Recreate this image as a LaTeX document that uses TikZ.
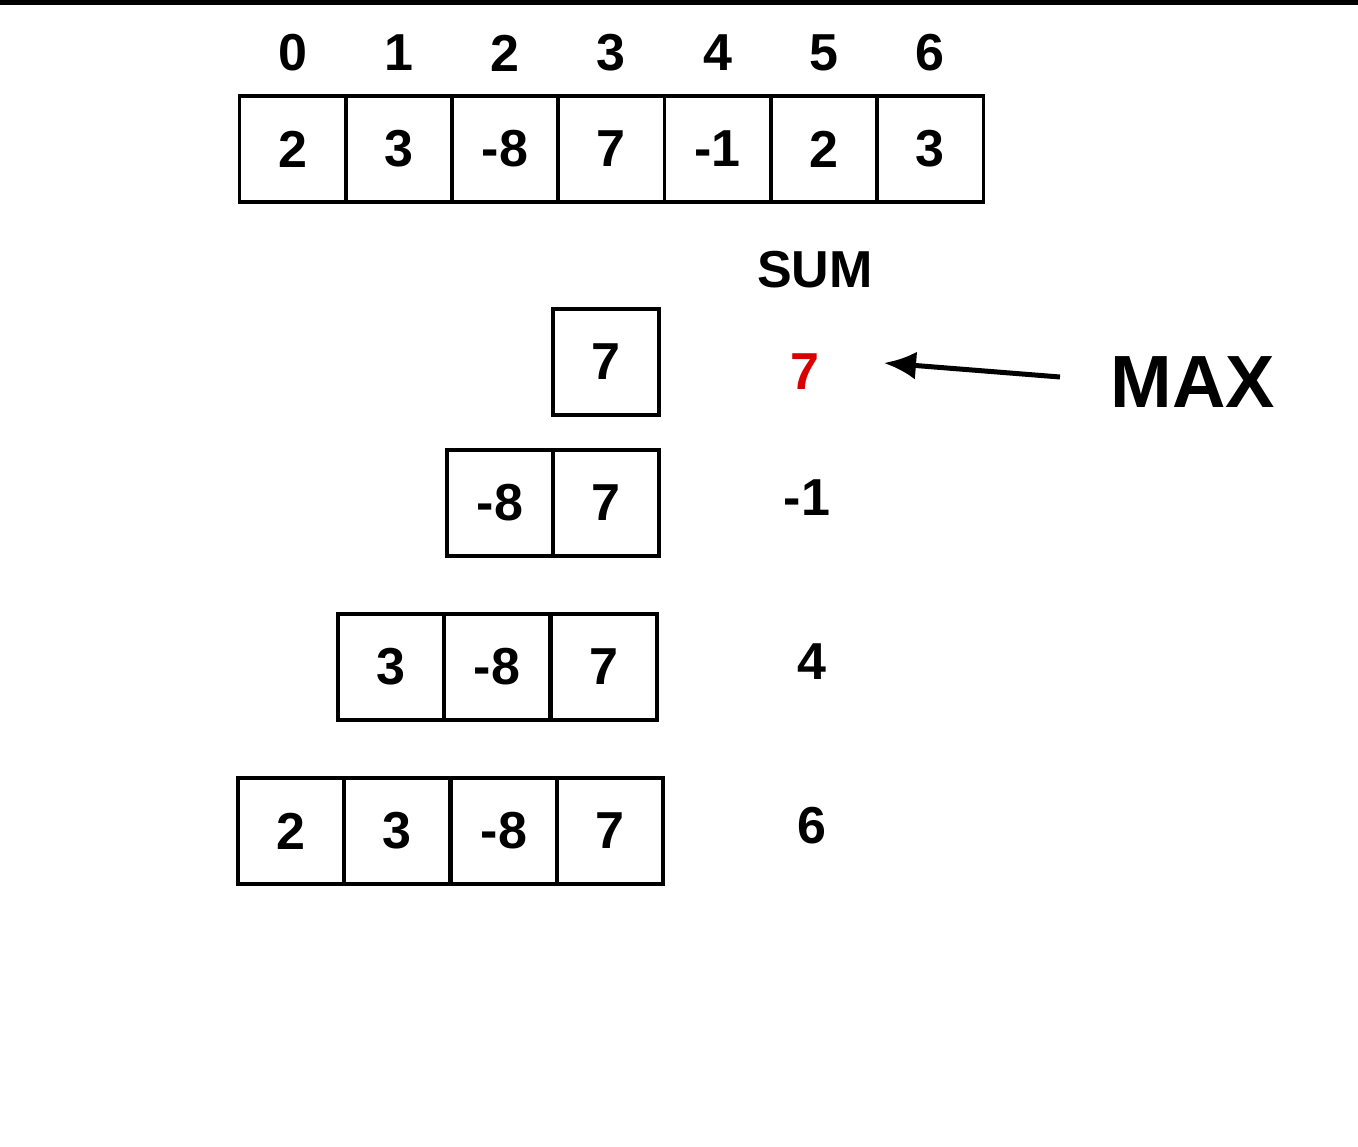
\documentclass[tikz,border=0pt]{standalone}
\usepackage{fontspec}
\setmainfont{Liberation Sans}
\usetikzlibrary{arrows.meta}
\begin{document}
\begin{tikzpicture}[x=1pt,y=-1pt,
  cell/.style={draw,line width=3.5pt,minimum width=106pt,minimum height=106pt,inner sep=0pt,font=\fontsize{52}{52}\bfseries},
  lbl/.style={inner sep=0pt,font=\fontsize{52}{52}\bfseries}]
\useasboundingbox (0,0) rectangle (1358,1147);
\fill (0,0) rectangle (1358,5);
% top array
\foreach \v [count=\i from 0] in {2,3,-8,7,-1,2,3}{
  \node[cell] (t\i) at ({292.5+106.3*\i},149) {\v};
  \node[lbl] (i\i) at ({292.5+106.3*\i},53) {\i};
}
\node[lbl] (sum) at (815,270) {SUM};
% row 1
\node[cell] (a1) at (606,362) {7};
\node[lbl,text=red!85!black] (s1) at (805,372) {7};
% row 2
\node[cell] (b1) at (500,503) {-8};
\node[cell] (b2) at (606,503) {7};
\node[lbl] (s2) at (807,498) {-1};
% row 3
\node[cell] (c1) at (391,667) {3};
\node[cell] (c2) at (497,667) {-8};
\node[cell] (c3) at (604,667) {7};
\node[lbl] (s3) at (812,662) {4};
% row 4
\node[cell] (d1) at (291,831) {2};
\node[cell] (d2) at (397,831) {3};
\node[cell] (d3) at (504,831) {-8};
\node[cell] (d4) at (610,831) {7};
\node[lbl] (s4) at (812,826) {6};
% max
\node[inner sep=0pt,font=\fontsize{74}{74}\bfseries] (max) at (1193,382) {MAX};
\coordinate (ae) at (1060,377);
\coordinate (ah) at (884,363);
\draw[line width=5pt,-{Latex[length=32pt,width=28pt]}] (ae) -- (ah);
\end{tikzpicture}
\end{document}
